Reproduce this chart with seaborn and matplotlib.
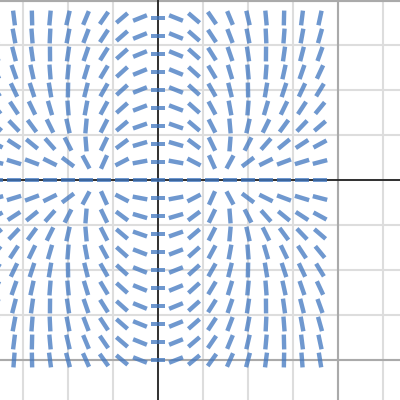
import numpy as np
import matplotlib
matplotlib.use("Agg")
import matplotlib.pyplot as plt
import seaborn as sns

sns.set_style("white")

# sample points of the slope field (grid units)
xs = 0.4 * np.arange(-9, 10)
ys = 0.4 * np.arange(-10, 10)

# slope: flat on x=0 and y=0, vertical on |x| = 1.2 + 0.42|y|
def slope(x, y):
    a = 1.2 + 0.42 * np.abs(y)
    return 2.0 * x * y / (x ** 2 - a ** 2)

X, Y = np.meshgrid(xs, ys)
with np.errstate(divide="ignore", invalid="ignore"):
    S = slope(X, Y)
ang = np.arctan(S)
ang = np.where(np.isinf(S), np.pi / 2, ang)
L = 0.33
U = L * np.cos(ang)
V = L * np.sin(ang)

fig, ax = plt.subplots(figsize=(4, 4), dpi=100)
fig.subplots_adjust(0, 0, 1, 1)
ax.set_xlim(-158 / 45, 242 / 45)
ax.set_ylim(-220 / 45, 180 / 45)

for g in range(-3, 6):
    ax.axvline(g, color="#dddddd", lw=1.5, zorder=0)
for g in range(-4, 5):
    ax.axhline(g, color="#dddddd", lw=1.5, zorder=0)
ax.axvline(4, color="#aaaaaa", lw=1.5, zorder=0)
ax.axhline(-4, color="#aaaaaa", lw=1.5, zorder=0)
ax.axhline(4, color="#aaaaaa", lw=3, zorder=0)
ax.axvline(0, color="#222222", lw=1.3, zorder=1)
ax.axhline(0, color="#222222", lw=1.3, zorder=1)

ax.quiver(X, Y, U, V, angles="xy", scale_units="xy", scale=1, pivot="middle",
          color="#3f76c0", alpha=0.75, width=0.011,
          headwidth=1, headlength=0, headaxislength=0, zorder=2)

ax.set_xticks([])
ax.set_yticks([])
for s in ax.spines.values():
    s.set_visible(False)

fig.savefig("out.png", dpi=100)
